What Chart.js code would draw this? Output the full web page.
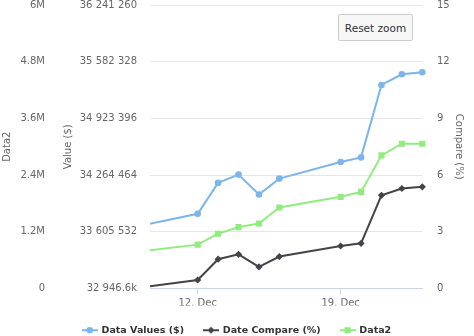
<!DOCTYPE html>
<html>
<head>
<meta charset="utf-8">
<title>Data Values</title>
<script src="https://cdn.jsdelivr.net/npm/chart.js@4.4.1/dist/chart.umd.min.js"></script>
<style>
  html, body { margin: 0; padding: 0; background: #fff; }
  #wrap { position: relative; width: 474px; height: 336px; }
  #resetZoom {
    position: absolute; left: 338px; top: 14px; width: 75px; height: 27px;
    margin: 0; padding: 0; box-sizing: border-box;
    background: #f7f7f7; border: 1px solid #cccccc; border-radius: 2px;
    font: 10.5px "DejaVu Sans", sans-serif; color: #333;
  }
</style>
</head>
<body>
<div id="wrap">
  <canvas id="chartCanvas" width="474" height="336"></canvas>
  <button id="resetZoom">Reset zoom</button>
</div>
<script>
// day of month (December) for each sample
const days = [9, 12, 13, 14, 15, 16, 19, 20, 21, 22, 23];
const dataValues = [33666200, 33815100, 34174000, 34270000, 34038500, 34223600, 34417100, 34470300, 35312200, 35436000, 35459100];
const dateCompare = [0.03, 0.45, 1.55, 1.81, 1.14, 1.69, 2.25, 2.39, 4.93, 5.29, 5.38];
const data2 = [774000, 928000, 1160000, 1299000, 1377000, 1714000, 1940000, 2045000, 2817000, 3064000, 3064000];

const xTickDays = [12, 19];
const xTickLabels = ['12. Dec', '19. Dec'];
const valueTicks = [32946600, 33605532, 34264464, 34923396, 35582328, 36241260];
const valueTickLabels = ['32 946.6k', '33 605 532', '34 264 464', '34 923 396', '35 582 328', '36 241 260'];
const compareTicks = [0, 3, 6, 9, 12, 15];
const data2Ticks = [0, 1200000, 2400000, 3600000, 4800000, 6000000];
const data2TickLabels = ['0', '1.2M', '2.4M', '3.6M', '4.8M', '6M'];

const FONT = 'DejaVu Sans';
Chart.defaults.font.family = FONT;
Chart.defaults.font.size = 10;
Chart.defaults.color = '#666';

const toPoints = (ys) => days.map((d, i) => ({ x: d, y: ys[i] }));

// legend symbol: short line with the series marker in the middle
function legendIcon(color, style, radius) {
  const c = document.createElement('canvas');
  c.width = 16; c.height = 10;
  const g = c.getContext('2d');
  g.strokeStyle = color; g.lineWidth = 2;
  g.beginPath(); g.moveTo(0, 5); g.lineTo(16, 5); g.stroke();
  g.fillStyle = color;
  Chart.helpers.drawPoint(g, { pointStyle: style, radius, rotation: 0, borderWidth: 0 }, 8, 5);
  return c;
}

const series = [
  { label: 'Data Values ($)', values: dataValues, axis: 'y', color: '#7cb5ec', style: 'circle', r: 3.3 },
  { label: 'Date Compare (%)', values: dateCompare, axis: 'yCompare', color: '#434348', style: 'rectRot', r: 3.6 },
  { label: 'Data2', values: data2, axis: 'yData2', color: '#90ed7d', style: 'rect', r: 4.3 }
];
const legendIcons = series.map(s => legendIcon(s.color, s.style, s.r));

const fixWidth = (w) => (axis) => {
  axis.width = w;
  axis.paddingTop = 0;
  axis.paddingBottom = 0;
};
const setTicks = (vals) => (axis) => { axis.ticks = vals.map(v => ({ value: v })); };

new Chart(document.getElementById('chartCanvas'), {
  type: 'line',
  data: {
    datasets: series.map(s => ({
      label: s.label,
      data: toPoints(s.values),
      yAxisID: s.axis,
      borderColor: s.color,
      backgroundColor: s.color,
      borderWidth: 2,
      tension: 0,
      pointStyle: s.style,
      pointRadius: s.r,
      pointBorderWidth: 0,
      clip: { left: 0, top: 8, right: 8, bottom: 8 }
    }))
  },
  options: {
    responsive: false,
    animation: false,
    events: [],
    layout: { padding: { top: 5, left: 0, right: 0, bottom: -9 } },
    scales: {
      x: {
        type: 'linear',
        position: 'bottom',
        min: 9.664,
        max: 23,
        afterBuildTicks: setTicks(xTickDays),
        afterFit: (axis) => { axis.height = 17; axis.paddingLeft = 0; axis.paddingRight = 0; },
        ticks: {
          padding: 3,
          maxRotation: 0,
          autoSkip: false,
          callback: (v, i) => xTickLabels[i]
        },
        grid: { drawOnChartArea: false, drawTicks: true, tickLength: 6, color: '#ccd6eb' },
        border: { display: true, color: '#ccd6eb', width: 1 }
      },
      y: {
        position: 'left',
        weight: 1,
        min: valueTicks[0],
        max: valueTicks[valueTicks.length - 1],
        afterBuildTicks: setTicks(valueTicks),
        afterFit: fixWidth(98),
        ticks: { padding: 13, callback: (v, i) => valueTickLabels[i] },
        grid: { color: '#e6e6e6', drawTicks: false },
        border: { display: false },
        title: { display: true, text: 'Value ($)', color: '#666', font: { size: 10 }, padding: { top: 10, bottom: 0 } }
      },
      yData2: {
        position: 'left',
        weight: 2,
        min: 0,
        max: data2Ticks[data2Ticks.length - 1],
        afterBuildTicks: setTicks(data2Ticks),
        afterFit: fixWidth(52),
        ticks: { padding: 7, callback: (v, i) => data2TickLabels[i] },
        grid: { display: false, drawTicks: false },
        border: { display: false },
        title: { display: true, text: 'Data2', color: '#666', font: { size: 10 }, padding: { top: 1, bottom: 0 } }
      },
      yCompare: {
        position: 'right',
        min: 0,
        max: compareTicks[compareTicks.length - 1],
        afterBuildTicks: setTicks(compareTicks),
        afterFit: fixWidth(51.7),
        ticks: { padding: 14.7, callback: (v, i) => String(compareTicks[i]) },
        grid: { display: false, drawTicks: false },
        border: { display: false },
        title: { display: true, text: 'Compare (%)', color: '#666', font: { size: 10 }, padding: { top: 9, bottom: 0 } }
      }
    },
    plugins: {
      tooltip: { enabled: false },
      legend: {
        position: 'bottom',
        labels: {
          usePointStyle: true,
          pointStyleWidth: 14,
          padding: 20,
          color: '#333',
          font: { family: FONT, size: 9.5, weight: 'bold' },
          generateLabels: (chart) => Chart.defaults.plugins.legend.labels.generateLabels(chart)
            .map((item, i) => Object.assign(item, { pointStyle: legendIcons[i] }))
        }
      }
    }
  }
});
</script>
</body>
</html>
